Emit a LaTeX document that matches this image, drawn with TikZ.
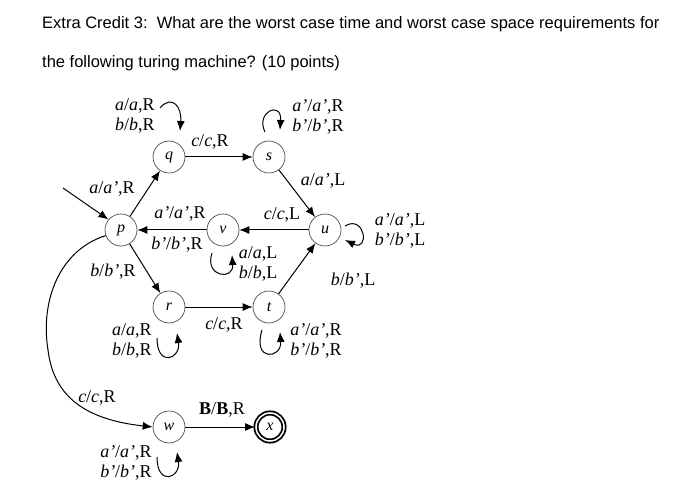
\documentclass[tikz,border=0pt]{standalone}
\usepackage{fontspec}
\setmainfont{Liberation Serif}
\newfontfamily\arialf{Liberation Sans}
\begin{document}
\begin{tikzpicture}[x=1pt,y=-1pt,
  st/.style={circle,draw=black!70,line width=0.7pt,minimum size=32pt,inner sep=0pt,font=\fontsize{16}{17}\selectfont\itshape},
  ar/.style={-{Latex[length=10pt,width=8pt]},line width=1pt},
  lb/.style={font=\fontsize{18}{20}\selectfont,inner sep=0pt,align=left},
  tt/.style={font=\arialf\fontsize{16.5}{18}\selectfont,anchor=west,inner sep=0pt}]
\usetikzlibrary{arrows.meta}
\useasboundingbox (0,0) rectangle (677,494);
\node[tt] (t1) at (42,24) {Extra Credit 3:\ \ What are the worst case time and worst case space requirements for};
\node[tt] (t2) at (42,63) {the following turing machine? (10 points)};
\node[st] (q) at (169,157) {q};
\node[st] (s) at (269,157) {s};
\node[st] (p) at (121,230) {p};
\node[st] (v) at (223,230) {v};
\node[st] (u) at (325,230) {u};
\node[st] (r) at (169,307) {r};
\node[st] (t) at (269,307) {t};
\node[st] (w) at (169,427) {w};
\node[st,double,double distance=1.5pt,line width=1.8pt,draw=black,minimum size=28pt] (x) at (270,427) {x};
\coordinate (init) at (63,188);
\draw[ar] (init) -- (p.140);
\draw[ar] (q) -- (s);
\draw[ar] (s) -- (u);
\draw[ar] (u) -- (v);
\draw[ar] (v) -- (p);
\draw[ar] (p) -- (q);
\draw[ar] (p) -- (r);
\draw[ar] (r) -- (t);
\draw[ar] (t) -- (u);
\draw[ar] (w) -- (x);
\draw[ar] (p.200) .. controls (60,250) and (40,300) .. (48,350) .. controls (54,400) and (90,420) .. (w.west);
% loops
\draw[ar] ([shift={(-9,-49)}]q.center) .. controls +(12,-14) and +(2,-24) .. ([shift={(11,-26)}]q.center);
\draw[ar] ([shift={(-4,-25)}]s.center) .. controls +(-10,-20) and +(2,-30) .. ([shift={(11,-27)}]s.center);
\draw[ar] ([shift={(20,-4)}]u.center) .. controls +(20,-12) and +(25,12) .. ([shift={(20,10)}]u.center);
\draw[ar] ([shift={(-11,23)}]v.center) .. controls +(-8,24) and +(2,26) .. ([shift={(9,25)}]v.center);
\draw[ar] ([shift={(-12,31)}]r.center) .. controls +(0,30) and +(4,26) .. ([shift={(8,26)}]r.center);
\draw[ar] ([shift={(-7,23)}]t.center) .. controls +(-10,32) and +(2,27) .. ([shift={(11,25)}]t.center);
\draw[ar] ([shift={(-12,30)}]w.center) .. controls +(0,30) and +(4,26) .. ([shift={(8,25)}]w.center);
% labels
\node[lb] (l1) at (135,116) {\textit{a}/\textit{a},R\\\textit{b}/\textit{b},R};
\node[lb] (l2) at (318,117) {\textit{a'}/\textit{a'},R\\\textit{b'}/\textit{b'},R};
\node[lb] (l3) at (210,142) {\textit{c}/\textit{c},R};
\node[lb] (l4) at (323,181) {\textit{a}/\textit{a'},L};
\node[lb] (l5) at (112,189) {\textit{a}/\textit{a'},R};
\node[lb] (l6) at (180,214) {\textit{a'}/\textit{a'},R};
\node[lb] (l7) at (177,245) {\textit{b'}/\textit{b'},R};
\node[lb] (l8) at (282,215) {\textit{c}/\textit{c},L};
\node[lb] (l9) at (400,231) {\textit{a'}/\textit{a'},L\\\textit{b'}/\textit{b'},L};
\node[lb] (l10) at (258,264) {\textit{a}/\textit{a},L\\\textit{b}/\textit{b},L};
\node[lb] (l11) at (113,272) {\textit{b}/\textit{b'},R};
\node[lb] (l12) at (353,281) {\textit{b}/\textit{b'},L};
\node[lb] (l13) at (224,325) {\textit{c}/\textit{c},R};
\node[lb] (l14) at (132,341) {\textit{a}/\textit{a},R\\\textit{b}/\textit{b},R};
\node[lb] (l15) at (316,341) {\textit{a'}/\textit{a'},R\\\textit{b'}/\textit{b'},R};
\node[lb] (l16) at (97,398) {\textit{c}/\textit{c},R};
\node[lb] (l17) at (222,410) {\textbf{B}/\textbf{B},R};
\node[lb] (l18) at (126,463) {\textit{a'}/\textit{a'},R\\\textit{b'}/\textit{b'},R};
\end{tikzpicture}
\end{document}
